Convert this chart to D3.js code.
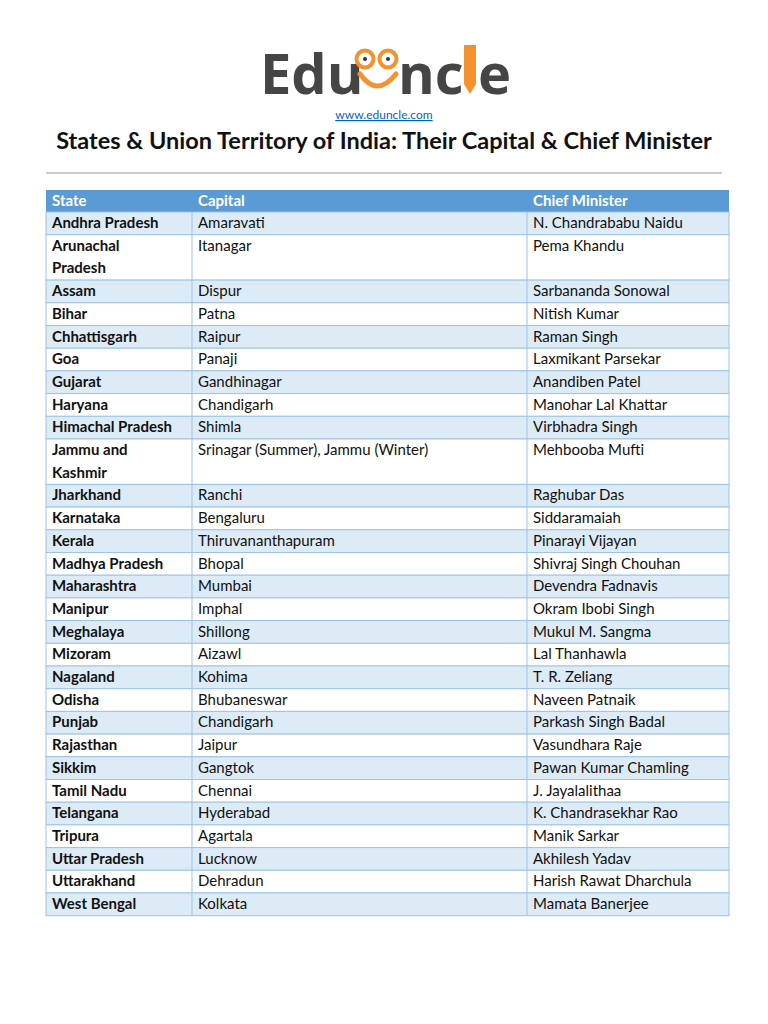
<!DOCTYPE html><html><head><meta charset="utf-8"><script src="https://cdn.jsdelivr.net/npm/d3@7"></script>
<style>body{margin:0;background:#fff}</style></head><body><svg id="c" width="768" height="1024"></svg><script>
const headers=["State","Capital","Chief Minister"];
const states=["Andhra Pradesh","Arunachal|Pradesh","Assam","Bihar","Chhattisgarh","Goa","Gujarat","Haryana","Himachal Pradesh","Jammu and|Kashmir","Jharkhand","Karnataka","Kerala","Madhya Pradesh","Maharashtra","Manipur","Meghalaya","Mizoram","Nagaland","Odisha","Punjab","Rajasthan","Sikkim","Tamil Nadu","Telangana","Tripura","Uttar Pradesh","Uttarakhand","West Bengal"];
const capitals=["Amaravati","Itanagar","Dispur","Patna","Raipur","Panaji","Gandhinagar","Chandigarh","Shimla","Srinagar (Summer), Jammu (Winter)","Ranchi","Bengaluru","Thiruvananthapuram","Bhopal","Mumbai","Imphal","Shillong","Aizawl","Kohima","Bhubaneswar","Chandigarh","Jaipur","Gangtok","Chennai","Hyderabad","Agartala","Lucknow","Dehradun","Kolkata"];
const ministers=["N. Chandrababu Naidu","Pema Khandu","Sarbananda Sonowal","Nitish Kumar","Raman Singh","Laxmikant Parsekar","Anandiben Patel","Manohar Lal Khattar","Virbhadra Singh","Mehbooba Mufti","Raghubar Das","Siddaramaiah","Pinarayi Vijayan","Shivraj Singh Chouhan","Devendra Fadnavis","Okram Ibobi Singh","Mukul M. Sangma","Lal Thanhawla","T. R. Zeliang","Naveen Patnaik","Parkash Singh Badal","Vasundhara Raje","Pawan Kumar Chamling","J. Jayalalithaa","K. Chandrasekhar Rao","Manik Sarkar","Akhilesh Yadav","Harish Rawat Dharchula","Mamata Banerjee"];
const svg=d3.select("#c"),F="Lato, 'Open Sans', sans-serif";
const lg=svg.append("g");
const LF="'Open Sans',sans-serif";
lg.append("text").attr("x",260).attr("y",94).attr("font-family",LF).attr("font-weight",700).attr("font-size",56).attr("fill","#454545").text("Edu");
lg.append("text").attr("x",398).attr("y",94).attr("font-family",LF).attr("font-weight",700).attr("font-size",56).attr("fill","#454545").text("nc");
lg.append("text").attr("x",478).attr("y",94).attr("font-family",LF).attr("font-weight",700).attr("font-size",56).attr("fill","#454545").text("e");
[365,388].forEach(cx=>{lg.append("circle").attr("cx",cx).attr("cy",59).attr("r",8.5).attr("fill","#fff").attr("stroke","#f5922f").attr("stroke-width",4);lg.append("circle").attr("cx",cx).attr("cy",59).attr("r",2).attr("fill","#333");});
lg.append("path").attr("d","M360 74 Q377 98 396 74").attr("fill","none").attr("stroke","#f5922f").attr("stroke-width",5).attr("stroke-linecap","round");
lg.append("path").attr("d","M464 45 L476 45 L476 84 L470 94 L464 84 Z").attr("fill","#f5922f");
lg.append("text").attr("x",384).attr("y",119).attr("text-anchor","middle").attr("font-family",F).attr("font-size",12).attr("fill","#0563c1").attr("text-decoration","underline").text("www.eduncle.com");
svg.append("text").attr("x",384).attr("y",149).attr("text-anchor","middle").attr("font-family",F).attr("font-weight",700).attr("font-size",23.5).attr("fill","#111").text("States & Union Territory of India: Their Capital & Chief Minister");
svg.append("line").attr("x1",46).attr("x2",722).attr("y1",173).attr("y2",173).attr("stroke","#999").attr("stroke-width",1);
const cols=[46,192,527,729],ty=190,hh=22,rh=22.7;
const units=states.map(s=>s.includes("|")?2:1);
let ys=[ty+hh];units.forEach(u=>ys.push(ys[ys.length-1]+u*rh));
svg.append("rect").attr("x",cols[0]).attr("y",ty).attr("width",cols[3]-cols[0]).attr("height",hh).attr("fill","#5b9bd5");
headers.forEach((h,i)=>svg.append("text").attr("x",cols[i]+6).attr("y",ty+16).attr("font-family",F).attr("font-weight",700).attr("font-size",15).attr("fill","#fff").text(h));
svg.selectAll("rect.r").data(states).join("rect").attr("x",cols[0]).attr("y",(d,i)=>ys[i]).attr("width",cols[3]-cols[0]).attr("height",(d,i)=>ys[i+1]-ys[i]).attr("fill",(d,i)=>i%2==0?"#ddebf7":"#fff").attr("stroke","#9dc3e6").attr("stroke-width",1);
[1,2].forEach(c=>svg.append("line").attr("x1",cols[c]).attr("x2",cols[c]).attr("y1",ty+hh).attr("y2",ys[ys.length-1]).attr("stroke","#9dc3e6"));
states.forEach((s,i)=>{
 s.split("|").forEach((t,k)=>svg.append("text").attr("x",cols[0]+6).attr("y",ys[i]+16+k*rh).attr("font-family",F).attr("font-weight",700).attr("font-size",15).attr("fill","#111").text(t));
 svg.append("text").attr("x",cols[1]+6).attr("y",ys[i]+16).attr("font-family",F).attr("font-size",15).attr("fill","#111").text(capitals[i]);
 svg.append("text").attr("x",cols[2]+6).attr("y",ys[i]+16).attr("font-family",F).attr("font-size",15).attr("fill","#111").text(ministers[i]);
});
</script></body></html>
